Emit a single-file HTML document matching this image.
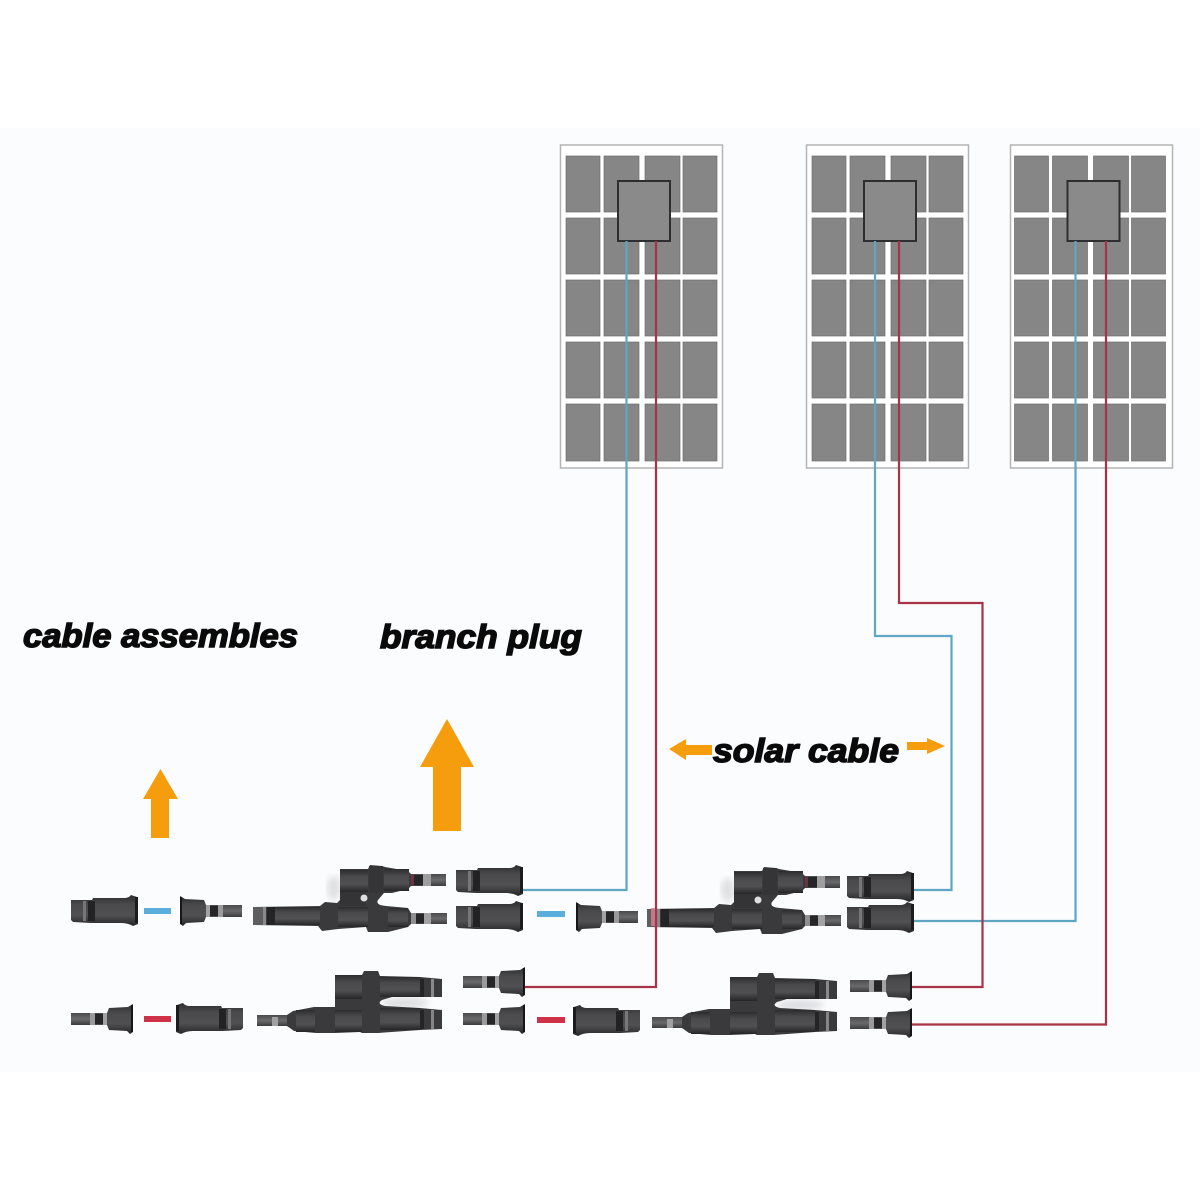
<!DOCTYPE html>
<html>
<head>
<meta charset="utf-8">
<title>Solar cable diagram</title>
<style>
html,body{margin:0;padding:0;background:#fff;width:1200px;height:1200px;overflow:hidden}
svg{display:block}
text{font-family:"Liberation Sans",sans-serif;font-weight:bold;font-style:italic;fill:#0a0a0a;stroke:#0a0a0a;stroke-width:1.5px}
</style>
</head>
<body>
<svg width="1200" height="1200" viewBox="0 0 1200 1200" xmlns="http://www.w3.org/2000/svg">
<defs>
<linearGradient id="g" x1="0" y1="0" x2="0" y2="1">
<stop offset="0" stop-color="#2c2c2e"/>
<stop offset=".3" stop-color="#4a4a4c"/>
<stop offset=".65" stop-color="#505052"/>
<stop offset="1" stop-color="#262628"/>
</linearGradient>
<linearGradient id="p" x1="0" y1="0" x2="0" y2="1">
<stop offset="0" stop-color="#4a4a4c"/>
<stop offset=".5" stop-color="#6a6a6c"/>
<stop offset="1" stop-color="#3c3c3e"/>
</linearGradient>
<filter id="b"><feGaussianBlur stdDeviation="3.5"/></filter>

<g id="cells">
<g fill="#868686" stroke="#6d6d6d" stroke-width=".7">
<rect x="566" y="156" width="34" height="56"/><rect x="604" y="156" width="35" height="56"/><rect x="645" y="156" width="35" height="56"/><rect x="683" y="156" width="34" height="56"/>
<rect x="566" y="218" width="34" height="56"/><rect x="604" y="218" width="35" height="56"/><rect x="645" y="218" width="35" height="56"/><rect x="683" y="218" width="34" height="56"/>
<rect x="566" y="280" width="34" height="56"/><rect x="604" y="280" width="35" height="56"/><rect x="645" y="280" width="35" height="56"/><rect x="683" y="280" width="34" height="56"/>
<rect x="566" y="342" width="34" height="56"/><rect x="604" y="342" width="35" height="56"/><rect x="645" y="342" width="35" height="56"/><rect x="683" y="342" width="34" height="56"/>
<rect x="566" y="404" width="34" height="57"/><rect x="604" y="404" width="35" height="57"/><rect x="645" y="404" width="35" height="57"/><rect x="683" y="404" width="34" height="57"/>
</g>
</g>
<rect id="frame" x="560.5" y="145" width="162" height="323" fill="#fff" stroke="#b4b4b4" stroke-width="1.5"/>
<rect id="jbox" x="618" y="181" width="52" height="60" fill="#8a8a8a" stroke="#2e2e30" stroke-width="2"/>

<!-- long female, flare at right; x 0..67, centred on y=0 -->
<g id="F">
<path d="M0,-11 L21,-11 L22,-13 L53,-13 Q58,-13 60,-16 L66,-14 L67,13 L62,15 Q57,12 50,12 L20,12 L2,11 L0,9 Z" fill="url(#g)"/>
<rect x="12" y="-10" width="3" height="20" fill="#77777a"/>
<rect x="17" y="-10" width="7" height="20" fill="#222224"/>
<rect x="64" y="-14" width="3" height="26" fill="#1c1c1e"/>
</g>

<!-- male, flare at left; x 0..62, centred on y=0 -->
<g id="M">
<path d="M0,-15 L5,-12 L24,-11 L26,-6 L62,-6 L62,6 L26,6 L24,11 L6,12 L3,15 L0,13 Z" fill="url(#g)"/>
<rect x="26" y="-6" width="4" height="12" fill="#a2a2a2"/>
<rect x="30" y="-5" width="8" height="10" fill="#262628"/>
<rect x="38" y="-6" width="5" height="12" fill="#9a9a9a"/>
<rect x="43" y="-6" width="19" height="12" fill="url(#p)"/>
<rect x="0" y="-14" width="2" height="27" fill="#161618"/>
</g>

<!-- branch plug with pins on the right -->
<g id="YA">
<ellipse cx="334" cy="888" rx="7" ry="12" fill="#d4d4d8" opacity=".7" filter="url(#b)"/>
<path d="M253,907 L320,906 L325,902 L337,903 L340,900 L340,869 L368,869 L370,865 L382,866 L385,867 L408,871 L411,874 L446,874 L446,886 L411,886 L408,889 L392,893 L384,893 L378,900 Q375,905 386,906 L408,908 L411,913 L447,913 L447,924 L411,924 L408,927 L388,932 L368,932 L366,927 L338,929 L322,931 L318,926 L253,925 Z" fill="#3a3a3c"/>
<rect x="340" y="870" width="28" height="22" fill="url(#g)"/>
<rect x="384" y="869" width="25" height="22" fill="url(#g)"/>
<rect x="369" y="866" width="14" height="27" fill="#353537"/>
<rect x="340" y="892" width="26" height="14" fill="#343436"/>
<circle cx="364" cy="898" r="3.500" fill="#dedede"/>
<rect x="411" y="874" width="35" height="12" fill="url(#p)"/>
<rect x="411" y="875" width="3" height="10" fill="#6a3340"/>
<rect x="414" y="875" width="9" height="10" fill="#262628"/>
<rect x="423" y="874" width="8" height="12" fill="#9e9e9e"/>
<rect x="267" y="907" width="53" height="18" fill="url(#g)"/>
<rect x="253" y="907" width="13" height="18" fill="#5e5e60"/>
<rect x="263" y="907" width="3" height="18" fill="#8a8a8c"/>
<rect x="267" y="907" width="8" height="18" fill="#242426"/>
<rect x="338" y="907" width="30" height="20" fill="url(#g)"/>
<rect x="388" y="908" width="20" height="19" fill="url(#g)"/>
<rect x="411" y="913" width="36" height="11" fill="url(#p)"/>
<rect x="411" y="913" width="5" height="11" fill="#8f8f8f"/>
<rect x="416" y="914" width="8" height="9" fill="#262628"/>
<rect x="424" y="913" width="7" height="11" fill="#a2a2a2"/>
</g>

<!-- branch plug with pin on the left -->
<g id="YB">
<ellipse cx="405" cy="1003" rx="24" ry="5" fill="#d4d4d8" opacity=".8" filter="url(#b)"/>
<path d="M257,1015 L287,1015 L293,1011 L314,1007 L335,1007 L335,975 L362,975 L364,971 L378,971 L380,976 L420,977 L442,979 L442,997 L420,997 L392,997 L382,1000 Q376,1004 385,1006 L420,1008 L442,1010 L442,1029 L420,1030 L378,1033 L362,1033 L360,1032 L335,1033 L316,1033 L294,1031 L287,1026 L257,1026 Z" fill="#3a3a3c"/>
<rect x="335" y="975" width="27" height="24" fill="url(#g)"/>
<rect x="380" y="977" width="40" height="20" fill="url(#g)"/>
<rect x="431" y="979" width="3" height="18" fill="#8a8a8c"/>
<rect x="420" y="979" width="4" height="18" fill="#242426"/>
<rect x="257" y="1015" width="30" height="11" fill="url(#p)"/>
<rect x="272" y="1017" width="6" height="9" fill="#a0a0a0"/>
<rect x="296" y="1010" width="19" height="22" fill="url(#g)"/>
<rect x="335" y="1010" width="27" height="22" fill="url(#g)"/>
<rect x="380" y="1008" width="40" height="22" fill="url(#g)"/>
<rect x="420" y="1010" width="4" height="19" fill="#242426"/>
<rect x="431" y="1010" width="3" height="19" fill="#858587"/>
</g>
</defs>

<rect x="0" y="128" width="1200" height="944" fill="#fbfcfe"/>

<use href="#frame"/><use href="#cells"/><use href="#jbox"/>
<use href="#frame" x="246"/><use href="#cells" x="246"/><use href="#jbox" x="246"/>
<use href="#frame" x="450"/><use href="#cells" x="448.500"/><use href="#jbox" x="449.500"/>

<!-- wires -->
<g fill="none" stroke-width="2.200" stroke-linejoin="miter">
<path d="M626.500,241 V890 H520" stroke="#5fa6c2"/>
<path d="M875,241 V636 H951.500 V890 H911" stroke="#5fa6c2"/>
<path d="M1075.500,241 V921 H911" stroke="#5fa6c2"/>
<path d="M899,241 V603 H982.500 V987 H910" stroke="#a83246"/>
<path d="M1106,241 V1024.500 H910" stroke="#a83246"/>
</g>

<!-- connectors row 1 -->
<use href="#F" transform="translate(71,911)"/>
<rect x="144" y="908" width="27" height="6" fill="#5aaedb"/>
<use href="#M" transform="translate(180,911)"/>
<use href="#YA"/>
<use href="#F" transform="translate(456,881)"/>
<use href="#F" transform="translate(456,917)"/>
<rect x="537" y="911" width="28" height="6" fill="#5aaedb"/>
<use href="#M" transform="translate(576,917)"/>
<use href="#YA" transform="translate(394,2)"/>
<use href="#F" transform="translate(847,887)"/>
<use href="#F" transform="translate(847,918)"/>

<!-- connectors row 2 -->
<use href="#M" transform="translate(133,1019) scale(-1,1)"/>
<rect x="144" y="1016" width="27" height="6" fill="#cf3148"/>
<use href="#F" transform="translate(243,1019) scale(-1,1)"/>
<use href="#YB"/>
<use href="#M" transform="translate(525,982) scale(-1,1)"/>
<use href="#M" transform="translate(525,1019) scale(-1,1)"/>
<rect x="537" y="1017" width="28" height="6" fill="#cf3148"/>
<use href="#F" transform="translate(640,1021) scale(-1,1)"/>
<use href="#YB" transform="translate(395,2)"/>
<use href="#M" transform="translate(912,986) scale(-1,1)"/>
<use href="#M" transform="translate(912,1023) scale(-1,1)"/>

<!-- wire over connectors -->
<path d="M656,241 V987 H525" fill="none" stroke="#a83246" stroke-width="2.200"/>
<rect x="651" y="908" width="4" height="18" fill="#d8808e" opacity=".8"/>

<!-- orange arrows -->
<g fill="#f59d0d">
<polygon points="160.500,769 178,799 169,799 169,838 151,838 151,799 143,799"/>
<polygon points="447,719 474,767 461,767 461,831 433,831 433,767 420,767"/>
<polygon points="669,749 686,739 686,745 712,745 712,755 686,755 686,760"/>
<polygon points="945,746 927,738 927,742 907,742 907,750 927,750 927,754"/>
</g>

<!-- labels -->
<text x="23" y="647" font-size="33" textLength="275" lengthAdjust="spacingAndGlyphs">cable assembles</text>
<text x="380" y="648" font-size="33" textLength="202" lengthAdjust="spacingAndGlyphs">branch plug</text>
<text x="713" y="762" font-size="33" textLength="186" lengthAdjust="spacingAndGlyphs">solar cable</text>
</svg>
</body>
</html>
